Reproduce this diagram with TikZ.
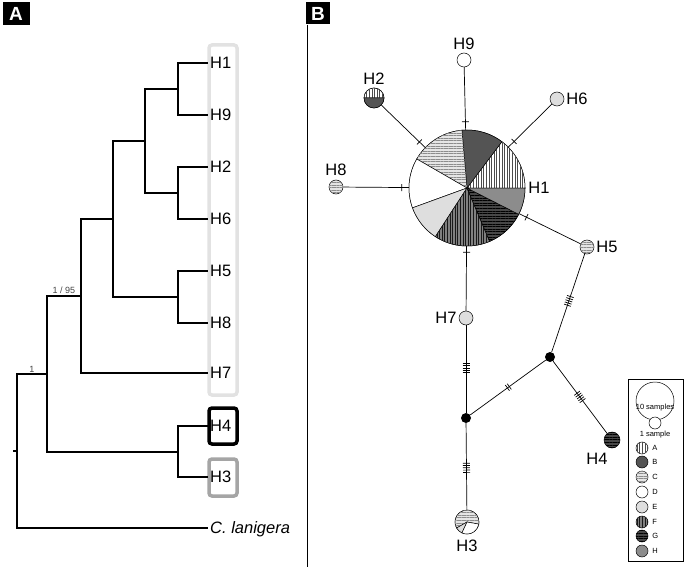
\documentclass[tikz,border=0pt]{standalone}
\usepackage{fontspec}
\setmainfont{Liberation Sans}
\usepackage{xcolor}
\usetikzlibrary{positioning, calc, decorations.markings, patterns.meta}
\definecolor{cladegray}{HTML}{E2E2E2}
\definecolor{boxgray}{HTML}{A5A5A5}
\definecolor{supgray}{HTML}{444444}
% one wedge of a haplotype pie: centre, start, end, radius, style
\newcommand{\piewedge}[5]{\path[#5, draw, line width=0.5pt] (#1) -- ++(#2:#4) arc[start angle=#2, end angle=#3, radius=#4] -- cycle;}
\tikzset{
  hapA/.style={fill=white, postaction={pattern={Lines[angle=90, distance=2.6pt, line width=0.45pt]}, pattern color=black!70}},
  hapB/.style={fill=black!67},
  hapC/.style={fill=black!10, postaction={pattern={Lines[angle=0, distance=2.6pt, line width=0.5pt]}, pattern color=black!45}},
  hapD/.style={fill=white},
  hapE/.style={fill=black!13},
  hapF/.style={fill=black!50, postaction={pattern={Lines[angle=90, distance=2.6pt, line width=0.55pt]}, pattern color=black!90}},
  hapG/.style={fill=black!72, postaction={pattern={Lines[angle=0, distance=2.6pt, line width=0.55pt]}, pattern color=black}},
  hapH/.style={fill=black!45},
  hap/.style={circle, draw, inner sep=0pt, line width=0.5pt},
  mvec/.style={circle, fill=black, inner sep=0pt, minimum size=10pt},
  link/.style={line width=0.7pt},
  mutations/.style 2 args={postaction={decorate, decoration={markings,
      mark=between positions #1 and #2 step 2.3pt with {\draw[line width=0.7pt] (0,-3.5pt) -- (0,3.5pt);}}}},
  branch/.style={line width=2pt, line join=miter},
  tip/.style={anchor=west, inner sep=2pt, text height=11.5pt, text depth=0pt},
  lab/.style={inner sep=1pt, text height=11.5pt, text depth=0pt},
  support/.style={above, inner sep=1pt, text=supgray, font=\fontsize{9}{10}\selectfont},
  clade/.style={line width=3.5pt, rounded corners=3pt},
  panel/.style={fill=black, text=white, inner sep=0pt, font=\bfseries\fontsize{19}{19}\selectfont},
  legtext/.style={inner sep=0pt, font=\fontsize{7.5}{8}\selectfont}
}
\begin{document}
\begin{tikzpicture}[x=1pt, y=-1pt, every node/.style={font=\fontsize{16.5}{18}\selectfont}]
  \useasboundingbox (0,0) rectangle (685,567);

  % Panel letters and divider
  \node[panel, minimum width=27pt, minimum height=23pt] (panelA) at (16,13.5) {A};
  \node[panel, minimum width=24pt, minimum height=22pt] (panelB) at (318,13.5) {B};
  \coordinate (divend) at (307,567);
  \draw[line width=0.8pt] (panelB.south west -| divend) -- (divend);

  % A -- clade boxes
  \draw[clade, cladegray] (209,45) rectangle (237,395);
  \draw[clade, black] (209,408) rectangle (237,444);
  \draw[clade, boxgray] (209,459) rectangle (237,496);

  % A -- tips
  \node[tip] (t1) at (208,63) {H1};
  \node[tip] (t9) at (208,115) {H9};
  \node[tip] (t2) at (208,167) {H2};
  \node[tip] (t6) at (208,219) {H6};
  \node[tip] (t5) at (208,271) {H5};
  \node[tip] (t8) at (208,323) {H8};
  \node[tip] (t7) at (208,373) {H7};
  \node[tip] (t4) at (208,426) {H4};
  \node[tip] (t3) at (208,477) {H3};
  \node[tip] (tout) at (208,528) {\itshape C. lanigera};

  % A -- internal nodes
  \coordinate (root) at (13,451);
  \coordinate (nA) at (17,451);
  \coordinate (nB) at (47,374);
  \coordinate (nC) at (81,296);
  \coordinate (nD) at (113,219);
  \coordinate (nE) at (145,141);
  \coordinate (nF) at (178,89);
  \coordinate (nG) at (178,193);
  \coordinate (nH) at (178,297);
  \coordinate (nK) at (178,451.5);

  \draw[branch] (root) -- (nA);
  \draw[branch] (nA) |- node[support, pos=0.75] (bs1) {1} (nB);
  \draw[branch] (nA) |- (tout.west);
  \draw[branch] (nB) |- node[support, pos=0.75] (bs2) {1 / 95} (nC);
  \draw[branch] (nB) |- (nK);
  \draw[branch] (nC) |- (nD);
  \draw[branch] (nC) |- (t7.west);
  \draw[branch] (nD) |- (nE);
  \draw[branch] (nD) |- (nH);
  \draw[branch] (nE) |- (nF);
  \draw[branch] (nE) |- (nG);
  \draw[branch] (nF) |- (t1.west);
  \draw[branch] (nF) |- (t9.west);
  \draw[branch] (nG) |- (t2.west);
  \draw[branch] (nG) |- (t6.west);
  \draw[branch] (nH) |- (t5.west);
  \draw[branch] (nH) |- (t8.west);
  \draw[branch] (nK) |- (t4.west);
  \draw[branch] (nK) |- (t3.west);

  % B -- haplotypes
  \node[hap, minimum size=116pt] (h1) at (467,188) {};
  \node[hap, hapD, minimum size=14pt] (h9) at (464,60) {};
  \node[hap, minimum size=20pt] (h2) at (374,98) {};
  \node[hap, hapE, minimum size=14pt] (h6) at (557,99) {};
  \node[hap, hapC, minimum size=14pt] (h8) at (336,187) {};
  \node[hap, hapC, minimum size=14pt] (h5) at (587,247) {};
  \node[hap, hapE, minimum size=14pt] (h7) at (466,318) {};
  \node[hap, hapG, minimum size=16pt] (h4) at (612,440) {};
  \node[hap, minimum size=24pt] (h3) at (467,522) {};
  \node[mvec] (mv1) at (550,357) {};
  \node[mvec] (mv2) at (466,418) {};

  % B -- links with mutation steps
  \draw[link, mutations={8pt}{8.5pt}] (h1) -- (h9);
  \draw[link, mutations={8pt}{8.5pt}] (h1) -- (h6);
  \draw[link, mutations={8pt}{8.5pt}] (h1) -- (h2);
  \draw[link, mutations={7pt}{7.5pt}] (h1) -- (h8);
  \draw[link, mutations={8pt}{8.5pt}] (h1) -- (h5);
  \draw[link, mutations={6pt}{6.5pt}] (h1) -- (h7);
  \draw[link, mutations={45pt}{54.5pt}] (h5) -- (mv1);
  \draw[link, mutations={38pt}{47.5pt}] (h7) -- (mv2);
  \draw[link, mutations={46pt}{49pt}] (mv2) -- (mv1);
  \draw[link, mutations={40pt}{49.5pt}] (mv1) -- (h4);
  \draw[link, mutations={40pt}{49.5pt}] (mv2) -- (h3);

  % B -- pies
  \piewedge{h1.center}{0}{53}{58pt}{hapA}
  \piewedge{h1.center}{53}{95}{58pt}{hapB}
  \piewedge{h1.center}{95}{150}{58pt}{hapC}
  \piewedge{h1.center}{150}{200}{58pt}{hapD}
  \piewedge{h1.center}{200}{237}{58pt}{hapE}
  \piewedge{h1.center}{237}{293}{58pt}{hapF}
  \piewedge{h1.center}{293}{333}{58pt}{hapG}
  \piewedge{h1.center}{333}{360}{58pt}{hapH}
  \piewedge{h2.center}{0}{180}{10pt}{hapA}
  \piewedge{h2.center}{180}{360}{10pt}{hapB}
  \piewedge{h3.center}{-10}{210}{12pt}{hapC}
  \piewedge{h3.center}{210}{245}{12pt}{hapE}
  \piewedge{h3.center}{245}{350}{12pt}{hapD}

  % B -- haplotype labels
  \node[lab, right=2pt of h1] (lh1) {H1};
  \node[lab, above=2pt of h9] (lh9) {H9};
  \node[lab, above=2pt of h2] (lh2) {H2};
  \node[lab, right=1pt of h6] (lh6) {H6};
  \node[lab, above=3pt of h8] (lh8) {H8};
  \node[lab, right=1pt of h5] (lh5) {H5};
  \node[lab, left=1pt of h7] (lh7) {H7};
  \node[lab, below=4pt of h4, xshift=-15pt] (lh4) {H4};
  \node[lab, below=5pt of h3] (lh3) {H3};

  % B -- legend
  \draw[line width=0.6pt] (628,379) rectangle (683,561);
  \node[hap, minimum size=38pt] (ten) at (655,401) {};
  \node[hap, fill=white, minimum size=12pt] (one) at (655,423) {};
  \node[legtext] (lten) at (655,408) {10 samples};
  \node[legtext, below=2pt of one] (lone) {1 sample};
  \node[hap, hapA, minimum size=12pt] (legA) at (642,448) {};
  \node[hap, hapB, minimum size=12pt] (legB) at (642,462) {};
  \node[hap, hapC, minimum size=12pt] (legC) at (642,477) {};
  \node[hap, hapD, minimum size=12pt] (legD) at (642,492) {};
  \node[hap, hapE, minimum size=12pt] (legE) at (642,507) {};
  \node[hap, hapF, minimum size=12pt] (legF) at (642,522) {};
  \node[hap, hapG, minimum size=12pt] (legG) at (642,536) {};
  \node[hap, hapH, minimum size=12pt] (legH) at (642,551) {};
  \foreach \k in {A,B,C,D,E,F,G,H}
    \node[legtext, right=4pt of leg\k] (tx\k) {\k};
\end{tikzpicture}
\end{document}
